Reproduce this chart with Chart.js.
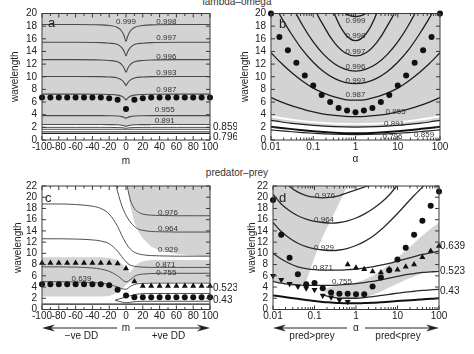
<!DOCTYPE html>
<html>
<head>
<meta charset="utf-8">
<script src="https://cdn.jsdelivr.net/npm/chart.js@4.4.0/dist/chart.umd.min.js"></script>
<style>
html, body { margin: 0; padding: 0; background: #fff; }
body { width: 474px; height: 354px; position: relative; overflow: hidden; font-family: "Liberation Sans", Arial, sans-serif; }
canvas { position: absolute; }
.hdr { position: absolute; left: 0; width: 474px; text-align: center; font-size: 10px; line-height: 12px; color: #333; }
</style>
</head>
<body>
<div class="hdr" style="top:-4px">lambda–omega</div>
<div class="hdr" style="top:167px">predator–prey</div>
<canvas id="pa" width="237" height="172" style="left:0;top:0"></canvas>
<canvas id="pb" width="237" height="172" style="left:237px;top:0"></canvas>
<canvas id="pc" width="237" height="179" style="left:0;top:175px"></canvas>
<canvas id="pd" width="237" height="179" style="left:237px;top:175px"></canvas>
<script>
// ---- panel a : lambda-omega, m ----
const ax = [-100, -60, -30, -20, -10, -5, -2, 0, 2, 5, 10, 20, 30, 60, 100];
const a1 = [18.25, 18.25, 18.2, 18.1, 17.8, 17.2, 16.4, 15.6, 16.4, 17.2, 17.8, 18.1, 18.2, 18.25, 18.25];
const a2 = [15.45, 15.45, 15.4, 15.3, 15.1, 14.6, 13.95, 13.3, 13.95, 14.6, 15.1, 15.3, 15.4, 15.45, 15.45];
const a3 = [12.7, 12.7, 12.66, 12.58, 12.36, 11.9, 11.3, 10.7, 11.3, 11.9, 12.36, 12.58, 12.66, 12.7, 12.7];
const a4 = [10.05, 10.05, 10.02, 9.96, 9.8, 9.47, 9.04, 8.6, 9.04, 9.47, 9.8, 9.96, 10.02, 10.05, 10.05];
const a5 = [7.25, 7.25, 7.23, 7.2, 7.1, 6.9, 6.62, 6.35, 6.62, 6.9, 7.1, 7.2, 7.23, 7.25, 7.25];
const a6 = [3.86, 3.86, 3.85, 3.83, 3.79, 3.69, 3.57, 3.44, 3.57, 3.69, 3.79, 3.83, 3.85, 3.86, 3.86];
const a7 = [2.45, 2.45, 2.44, 2.43, 2.4, 2.33, 2.24, 2.15, 2.24, 2.33, 2.4, 2.43, 2.44, 2.45, 2.45];
const a8 = [2.0, 2.0, 2.0, 1.99, 1.97, 1.94, 1.9, 1.85, 1.9, 1.94, 1.97, 1.99, 2.0, 2.0, 2.0];
const aFlatX = [-100, 100];
const a9 = [1.7, 1.7];
const a10 = [1.3, 1.3];
const a11 = [1.05, 1.05];
const markX = [-100, -90, -80, -70, -60, -50, -40, -30, -20, -10, 0, 10, 20, 30, 40, 50, 60, 70, 80, 90, 100];
const aDots = [6.7, 6.7, 6.7, 6.7, 6.7, 6.7, 6.7, 6.7, 6.6, 6.35, 4.9, 6.35, 6.6, 6.7, 6.7, 6.7, 6.7, 6.7, 6.7, 6.7, 6.7];
const aLabels = [['0.999', 0, 18.7], ['0.998', 48, 18.7], ['0.997', 48, 16.1], ['0.996', 48, 13.1],
  ['0.993', 48, 10.7], ['0.987', 48, 8.0], ['0.955', 46, 4.8], ['0.891', 46, 3.05]];
const aOutside = [['0.859', 2.0], ['0.796', 0.5]];

// ---- panel b : lambda-omega, alpha ----
const bx = [0.01, 0.0178, 0.0316, 0.0562, 0.1, 0.178, 0.316, 0.562, 1, 1.78, 3.16, 5.62, 10, 17.8, 31.6, 56.2, 100];
const bCap = [30, 30, 30, 30, 30, 30, 21.5, 20.0, 19.5, 20.0, 21.5, 30, 30, 30, 30, 30, 30];
const bA = [30, 30, 30, 30, 30, 25.4, 20.0, 16.8, 15.7, 16.8, 20.0, 25.4, 30, 30, 30, 30, 30];
const bB = [30, 30, 30, 30, 21.6, 18.0, 15.4, 13.8, 13.3, 13.8, 15.4, 18.0, 21.6, 30, 30, 30, 30];
const bC = [29.3, 25, 21.25, 18.1, 15.5, 13.5, 12.05, 11.2, 10.9, 11.2, 12.05, 13.5, 15.5, 18.1, 21.25, 25, 29.3];
const bD = [22.5, 19.3, 16.6, 14.2, 12.3, 10.8, 9.75, 9.1, 8.9, 9.1, 9.75, 10.8, 12.3, 14.2, 16.6, 19.3, 22.5];
const bE = [13.8, 12.1, 10.6, 9.3, 8.2, 7.4, 6.8, 6.4, 6.3, 6.4, 6.8, 7.4, 8.2, 9.3, 10.6, 12.1, 13.8];
const bF = [6.7, 6.0, 5.4, 4.9, 4.45, 4.1, 3.9, 3.75, 3.7, 3.75, 3.9, 4.1, 4.45, 4.9, 5.4, 6.0, 6.7];
const bWTop = [3.9, 3.6, 3.35, 3.13, 2.96, 2.83, 2.73, 2.67, 2.65, 2.67, 2.73, 2.83, 2.96, 3.13, 3.35, 3.6, 3.9];
const bWBot = [3.55, 3.28, 3.05, 2.85, 2.69, 2.56, 2.47, 2.42, 2.4, 2.42, 2.47, 2.56, 2.69, 2.85, 3.05, 3.28, 3.55];
const bG = [3.1, 2.85, 2.64, 2.46, 2.31, 2.2, 2.12, 2.07, 2.05, 2.07, 2.12, 2.2, 2.31, 2.46, 2.64, 2.85, 3.1];
const bH = [2.1, 1.9, 1.72, 1.55, 1.4, 1.27, 1.16, 1.08, 1.05, 1.08, 1.16, 1.27, 1.4, 1.55, 1.72, 1.9, 2.1];
const bI = [1.6, 1.45, 1.3, 1.17, 1.06, 0.97, 0.9, 0.86, 0.85, 0.86, 0.9, 0.97, 1.06, 1.17, 1.3, 1.45, 1.6];
const alphaX = [0.01, 0.0158, 0.0251, 0.0398, 0.0631, 0.1, 0.158, 0.251, 0.398, 0.631, 1, 1.58, 2.51, 3.98, 6.31, 10, 15.8, 25.1, 39.8, 63.1, 100];
const bDots = [20, 16.3, 14.2, 12.2, 10.2, 8.6, 7.1, 6.0, 5.06, 4.68, 4.4, 4.68, 5.06, 6.0, 7.1, 8.6, 10.2, 12.2, 14.2, 16.3, 20];
const bLabels = [['0.999', 1, 18.8], ['0.998', 1, 16.4], ['0.997', 1, 13.9], ['0.996', 1, 11.5], ['0.993', 1, 9.4],
  ['0.987', 1, 7.1], ['0.955', 8.9, 4.5], ['0.891', 8.2, 2.6], ['0.796', 7.5, 0.55], ['0.859', 42, 0.88]];
const alphaTicks = [0.01, 0.1, 1, 10, 100];

// ---- panel c : predator-prey, m ----
const cx = [-100, -80, -60, -40, -30, -20, -10, -5, 0, 5, 10, 15, 20, 30, 40, 60, 80, 100];
const c976 = [30, 30, 30, 30, 30, 30, 30, 26, 23.0, 19.6, 18.0, 17.3, 17.0, 16.8, 16.75, 16.7, 16.7, 16.7];
const c964 = [30, 30, 30, 30, 30, 27, 21.0, 18.5, 16.8, 15.6, 14.8, 14.3, 14.1, 13.9, 13.85, 13.8, 13.8, 13.8];
const c929 = [18.8, 18.8, 18.7, 18.4, 18.0, 17.0, 14.8, 13.2, 11.8, 10.8, 10.2, 9.9, 9.75, 9.6, 9.55, 9.5, 9.5, 9.5];
const c871 = [12.6, 12.6, 12.55, 12.4, 12.2, 11.7, 10.4, 9.4, 8.5, 7.9, 7.7, 7.6, 7.55, 7.5, 7.5, 7.5, 7.5, 7.5];
const c755 = [7.6, 7.6, 7.55, 7.4, 7.2, 6.8, 6.0, 5.4, 4.9, 5.3, 5.9, 6.2, 6.3, 6.4, 6.45, 6.45, 6.45, 6.45];
const c639 = [4.95, 4.95, 4.9, 4.8, 4.7, 4.45, 4.0, 3.7, 3.6, 4.1, 4.45, 4.6, 4.65, 4.7, 4.7, 4.7, 4.7, 4.7];
const cGrayTop = [30, 30, 30, 30, 30, 30, 30, 30, 24, 18.5, 15.5, 13.8, 12.7, 11.2, 10.5, 9.9, 9.6, 9.45];
const cGrayMidTop = [9.3, 9.3, 9.3, 9.3, 9.3, 9.2, 8.8, 8.2, 7.2, 6.6, 7.6, 8.3, 8.6, 8.8, 8.8, 8.8, 8.8, 8.8];
const cGrayMidBot = [2.3, 2.3, 2.3, 2.3, 2.3, 2.4, 3.0, 3.6, 4.4, 5.0, 4.9, 4.8, 4.8, 4.8, 4.8, 4.8, 4.8, 4.8];
const cCuspX = [-13, -8, -4, 0, 4, 8, 12, 16, 20, 30, 60, 100];
const c523 = [1.65, 1.9, 2.05, 2.2, 2.4, 2.55, 2.7, 2.78, 2.82, 2.85, 2.85, 2.85];
const c43 = [1.65, 1.45, 1.3, 1.2, 1.25, 1.35, 1.42, 1.45, 1.46, 1.47, 1.47, 1.47];
const cBase = [0.95, 0.95];
const cTri = [8.3, 8.3, 8.3, 8.3, 8.3, 8.3, 8.3, 8.3, 8.3, 8.2, 7.3, 5.0, 4.2, 4.2, 4.2, 4.2, 4.2, 4.2, 4.2, 4.2, 4.2];
const cDots = [4.5, 4.5, 4.5, 4.5, 4.5, 4.5, 4.5, 4.5, 4.3, 3.5, 2.5, 2.2, 2.2, 2.2, 2.2, 2.2, 2.2, 2.2, 2.2, 2.2, 2.2];
const cLabels = [['0.976', 50, 17.2], ['0.964', 50, 14.3], ['0.929', 50, 10.6], ['0.871', 47, 8.0],
  ['0.755', 48, 6.55], ['0.639', -53, 5.5]];
const cOutside = [['0.523', 3.7], ['0.43', 1.6]];

// ---- panel d : predator-prey, alpha ----
const d976 = [25, 23.5, 21.9, 20.9, 20.3, 20.0, 19.9, 20.0, 20.3, 20.8, 21.3, 21.8, 22.3, 23, 24, 25, 26, 27, 28, 29, 30];
const d964 = [20.5, 18.8, 17.6, 16.7, 16.1, 15.7, 15.5, 15.4, 15.5, 15.8, 16.3, 17.0, 17.9, 19.0, 20.4, 22.2, 24, 26, 28, 30, 32];
const d929 = [15.5, 13.9, 12.7, 11.8, 11.2, 10.8, 10.6, 10.5, 10.6, 10.9, 11.4, 12.1, 13.0, 14.2, 15.6, 17.1, 18.7, 20.3, 21.8, 23.5, 25];
const d871 = [10.0, 9.0, 8.2, 7.6, 7.3, 7.1, 7.0, 7.0, 7.0, 7.1, 7.2, 7.4, 7.6, 7.9, 8.2, 8.6, 9.0, 9.4, 9.8, 10.1, 10.4];
const d755 = [5.0, 4.7, 4.5, 4.4, 4.3, 4.3, 4.3, 4.3, 4.4, 4.5, 4.6, 4.8, 5.0, 5.3, 5.6, 5.9, 6.2, 6.4, 6.6, 6.7, 6.8];
const d639 = [null, null, null, null, null, null, 2.6, 2.2, 2.0, 2.0, 2.0, 2.1, 2.3, 2.5, 2.7, 2.9, 3.1, 3.25, 3.4, 3.5, 3.6];
const dBase = [2.5, 2.3, 2.1, 1.9, 1.7, 1.5, 1.35, 1.25, 1.15, 1.1, 1.1, 1.15, 1.2, 1.3, 1.4, 1.5, 1.6, 1.7, 1.8, 1.9, 2.0];
const dGrayL = [4.9, 4.6, 4.3, 4.2, 5.0, 9.3, 13.0, 16.0, 19.0, 22.3, 25, null, null, null, null, null, null, null, null, null, null];
const dGrayRTop = [null, null, null, null, null, null, 3.6, 4.0, 4.3, 4.5, 4.8, 5.3, 6.0, 6.9, 8.0, 9.2, 10.5, 11.8, 13.2, 14.4, 15.5];
const dGrayRBot = [null, null, null, null, null, null, 3.4, 2.4, 1.9, 1.8, 1.9, 2.1, 2.6, 3.2, 3.9, 4.6, 5.3, 5.9, 6.4, 6.8, 7.1];
const dDots = [19.5, 13.3, 9.2, 6.3, 4.5, 4.7, 3.8, 3.05, 2.8, 2.8, 2.7, 2.7, 4.1, 5.7, 7.0, 8.9, 11.0, 13.3, 15.8, 18.5, 21.0];
const dTriUpX = [0.631, 1, 1.58, 2.51, 3.98, 6.31, 10, 15.8, 25.1, 39.8, 63.1, 100];
const dTriUp = [8.0, 7.45, 7.15, 6.75, 6.6, 7.15, 7.1, 7.6, 8.0, 9.3, 10.4, 11.3];
const dTriDnX = [0.01, 0.0158, 0.0251, 0.0398, 0.0631, 0.1, 0.158, 0.251, 0.398, 0.631];
const dTriDn = [6.0, 5.3, 4.6, 4.1, 3.8, 3.5, 2.5, 2.2, 1.7, 1.4];
const dLabels = [['0.976', 0.18, 20.2], ['0.964', 0.17, 15.9], ['0.929', 0.17, 11.0], ['0.871', 0.16, 7.45], ['0.755', 0.46, 5.0]];
const dOutside = [['0.639', 11.3], ['0.523', 6.9], ['0.43', 3.3]];

const GRAY = '#d3d3d3';
const FONT = '"Liberation Sans", Arial, sans-serif';
Chart.defaults.font.family = FONT;
Chart.defaults.font.size = 10;
Chart.defaults.color = '#222';

function pts(xs, ys) {
  return xs.map((x, i) => ({ x: x, y: ys[i] })).filter(p => p.y !== null);
}
function line(xs, ys, color, width) {
  return { data: pts(xs, ys), borderColor: color, borderWidth: width, pointRadius: 0, fill: false,
    cubicInterpolationMode: 'monotone', order: 2 };
}
function shadeAbove(xs, ys) {
  return { data: pts(xs, ys), borderWidth: 0, pointRadius: 0, backgroundColor: GRAY, fill: 'end', tension: 0, order: 5 };
}
function shadeBetween(xs, top, bot) {
  return [
    { data: pts(xs, top), borderWidth: 0, pointRadius: 0, backgroundColor: GRAY, fill: '+1', tension: 0, order: 5 },
    { data: pts(xs, bot), borderWidth: 0, pointRadius: 0, fill: false, tension: 0, order: 5 }
  ];
}
function marks(xs, ys, style, rot, r) {
  return { data: pts(xs, ys), showLine: false, pointStyle: style, pointRotation: rot || 0, pointRadius: r || 3,
    pointBackgroundColor: '#111', pointBorderColor: '#111', pointBorderWidth: 0, clip: false, order: 1 };
}

// frame, inward ticks, contour labels, panel letter, arrows
const decor = {
  id: 'decor',
  afterDatasetsDraw(chart, args, o) {
    const { ctx, chartArea: ca, scales: { x, y } } = chart;
    ctx.save();
    ctx.strokeStyle = '#3a3a3a';
    ctx.lineWidth = 1;
    ctx.strokeRect(ca.left, ca.top, ca.right - ca.left, ca.bottom - ca.top);
    const seg = (x1, y1, x2, y2) => { ctx.beginPath(); ctx.moveTo(x1, y1); ctx.lineTo(x2, y2); ctx.stroke(); };
    const xTick = (v, len) => { const p = x.getPixelForValue(v); seg(p, ca.bottom, p, ca.bottom - len); seg(p, ca.top, p, ca.top + len); };
    const yTick = (v, len) => { const p = y.getPixelForValue(v); seg(ca.left, p, ca.left + len, p); seg(ca.right, p, ca.right - len, p); };
    x.ticks.forEach(t => xTick(t.value, 4));
    (o.minorX || []).forEach(v => xTick(v, 2.5));
    y.ticks.forEach(t => yTick(t.value, 4));

    ctx.fillStyle = '#333';
    ctx.font = '8px ' + FONT;
    ctx.textAlign = 'center';
    ctx.textBaseline = 'middle';
    o.labels.forEach(([t, vx, vy]) => ctx.fillText(t, x.getPixelForValue(vx), y.getPixelForValue(vy)));

    ctx.fillStyle = '#222';
    ctx.font = '10px ' + FONT;
    ctx.textAlign = 'left';
    (o.outside || []).forEach(([t, vy]) => ctx.fillText(t, ca.right + o.outDx, y.getPixelForValue(vy)));

    ctx.font = '13px ' + FONT;
    ctx.textBaseline = 'middle';
    ctx.fillText(o.letter, ca.left + o.letterDx, ca.top + o.letterDy);

    if (o.arrows) {
      const ay = ca.bottom + 18.5;
      const mid = (ca.left + ca.right) / 2;
      ctx.strokeStyle = '#222';
      ctx.fillStyle = '#222';
      ctx.lineWidth = 1.2;
      const arrow = (from, to) => {
        const dir = to > from ? 1 : -1;
        seg(from, ay, to - dir * 8, ay);
        ctx.beginPath();
        ctx.moveTo(to, ay);
        ctx.lineTo(to - dir * 13, ay - 3.5);
        ctx.lineTo(to - dir * 9, ay);
        ctx.lineTo(to - dir * 13, ay + 3.5);
        ctx.closePath();
        ctx.fill();
      };
      arrow(mid - 9, ca.left);
      arrow(mid + 9, ca.right);
      ctx.font = '10px ' + FONT;
      ctx.textAlign = 'center';
      ctx.fillText(o.arrows[0], (ca.left + mid - 9) / 2 + 2, ay + 8.5);
      ctx.fillText(o.arrows[1], (mid + 9 + ca.right) / 2 - 4, ay + 8.5);
    }
    ctx.restore();
  }
};
Chart.register(decor);

const minorM = [-90, -70, -50, -30, -10, 10, 30, 50, 70, 90];
const minorA = [];
[0.01, 0.1, 1, 10].forEach(d => { for (let k = 2; k <= 9; k++) minorA.push(d * k); });

function makePanel(id, p) {
  const xScale = p.log ? {
    type: 'logarithmic', min: 0.01, max: 100,
    afterBuildTicks: s => { s.ticks = alphaTicks.map(v => ({ value: v })); },
    ticks: { callback: v => String(v) }
  } : {
    type: 'linear', min: -100, max: 100,
    ticks: { stepSize: 20, callback: v => String(v) }
  };
  Object.assign(xScale.ticks, { autoSkip: false, maxRotation: 0, padding: 1 });
  xScale.grid = { display: false, drawTicks: false };
  xScale.border = { display: false };
  xScale.title = { display: true, text: p.xTitle, padding: { top: 0, bottom: p.xTitlePad }, font: { size: 10 } };
  xScale.afterFit = s => { s.height = p.xH; };

  return new Chart(document.getElementById(id), {
    type: 'line',
    data: { datasets: p.datasets },
    options: {
      responsive: false,
      animation: false,
      events: [],
      layout: { padding: { left: 0, top: p.top, right: p.right, bottom: 0 } },
      plugins: { legend: { display: false }, tooltip: { enabled: false }, decor: p.decor },
      scales: {
        x: xScale,
        y: {
          type: 'linear', min: 0, max: p.yMax,
          ticks: { stepSize: 2, autoSkip: false, padding: 5 },
          grid: { display: false, drawTicks: false },
          border: { display: false },
          title: { display: true, text: 'wavelength', padding: { top: p.yTitlePad, bottom: 0 }, font: { size: 10 } },
          afterFit: s => { s.width = p.yW; }
        }
      }
    }
  });
}

const LA = '#4a4a4a';
makePanel('pa', {
  log: false, yMax: 20, top: 13.5, right: 27, yW: 42, xH: 32, xTitle: 'm', xTitlePad: 5, yTitlePad: 9,
  decor: { labels: aLabels, outside: aOutside, outDx: 3, letter: 'a', letterDx: 6, letterDy: 10, minorX: minorM },
  datasets: [
    marks(markX, aDots, 'circle'),
    line(ax, a1, LA, 1.1), line(ax, a2, LA, 1.1), line(ax, a3, LA, 1.1), line(ax, a4, LA, 1.1),
    line(ax, a5, LA, 1.1), line(ax, a6, LA, 1.1), line(ax, a7, LA, 1.1), line(ax, a8, LA, 1),
    line(aFlatX, a9, LA, 1), line(aFlatX, a10, LA, 1), line(aFlatX, a11, '#222', 1.4),
    shadeAbove(ax, a7)
  ]
});

const LB = '#1e1e1e';
makePanel('pb', {
  log: true, yMax: 20, top: 13.5, right: 34, yW: 34, xH: 32, xTitle: '\u03b1', xTitlePad: 7, yTitlePad: 2,
  decor: { labels: bLabels, letter: 'b', letterDx: 8, letterDy: 11, minorX: minorA },
  datasets: [
    marks(alphaX, bDots, 'circle'),
    line(bx, bCap, LB, 1.3), line(bx, bA, LB, 1.3), line(bx, bB, LB, 1.3), line(bx, bC, LB, 1.3),
    line(bx, bD, LB, 1.3), line(bx, bE, LB, 1.3), line(bx, bF, LB, 1.3), line(bx, bG, LB, 1.2),
    line(bx, bH, '#111', 2), line(bx, bI, LB, 1.1),
    shadeAbove(bx, bWTop),
    ...shadeBetween(bx, bWBot, bG)
  ]
});

const LC = '#505050';
makePanel('pc', {
  log: false, yMax: 22, top: 10, right: 27, yW: 42, xH: 44.5, xTitle: 'm', xTitlePad: 20, yTitlePad: 12,
  decor: { labels: cLabels, outside: cOutside, outDx: 3, letter: 'c', letterDx: 3, letterDy: 12, minorX: minorM,
    arrows: ['\u2212ve DD', '+ve DD'] },
  datasets: [
    marks(markX, cTri, 'triangle', 0, 3.5),
    marks(markX, cDots, 'circle'),
    line(cx, c976, LC, 1), line(cx, c964, LC, 1), line(cx, c929, LC, 1), line(cx, c871, LC, 1),
    line(cx, c755, LC, 1), line(cx, c639, LC, 1),
    line(cCuspX, c523, LC, 1), line(cCuspX, c43, LC, 1),
    line(aFlatX, cBase, '#222', 1.4),
    shadeAbove(cx, cGrayTop),
    ...shadeBetween(cx, cGrayMidTop, cGrayMidBot)
  ]
});

const LD = '#2a2a2a';
makePanel('pd', {
  log: true, yMax: 22, top: 10, right: 35, yW: 36, xH: 44.5, xTitle: '\u03b1', xTitlePad: 20, yTitlePad: 9,
  decor: { labels: dLabels, outside: dOutside, outDx: 1, letter: 'd', letterDx: 6, letterDy: 12, minorX: minorA,
    arrows: ['pred>prey', 'pred<prey'] },
  datasets: [
    marks(dTriUpX, dTriUp, 'triangle', 0, 3.5),
    marks(dTriDnX, dTriDn, 'triangle', 180, 3.5),
    marks(alphaX, dDots, 'circle'),
    line(alphaX, d976, LD, 1.3), line(alphaX, d964, LD, 1.3), line(alphaX, d929, LD, 1.3),
    line(alphaX, d871, LD, 1.3), line(alphaX, d755, LD, 1.3), line(alphaX, d639, LD, 1.3),
    line(alphaX, dBase, '#111', 2),
    shadeAbove(alphaX, dGrayL),
    ...shadeBetween(alphaX, dGrayRTop, dGrayRBot)
  ]
});
</script>
</body>
</html>
